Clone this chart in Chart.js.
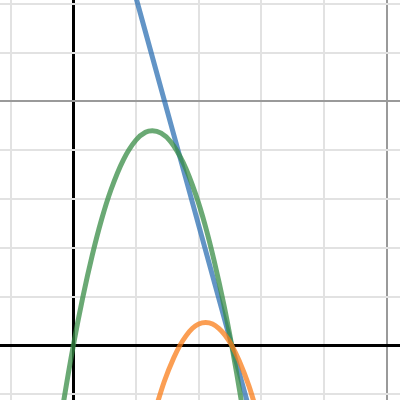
<!DOCTYPE html>
<html>
<head>
<meta charset="utf-8">
<script src="https://cdn.jsdelivr.net/npm/chart.js@4"></script>
<style>
  html, body { margin: 0; padding: 0; background: #fff; }
  #wrap { width: 400px; height: 400px; position: relative; }
</style>
</head>
<body>
<div id="wrap"><canvas id="graph"></canvas></div>
<script>
// visible window
const xMin = -1.17, xMax = 5.21;
const yMin = -1.12, yMax = 7.08;

// blue straight line
const blueX = [0.9, 1.7, 2.526, 2.9];
const blueY = [7.59, 3.86, 0, -1.75];

// green parabola
const greenX = [-0.3, -0.15, 0, 0.15, 0.3, 0.45, 0.6, 0.8, 1.0, 1.15, 1.26, 1.4, 1.55, 1.75, 1.95, 2.1, 2.25, 2.4, 2.526, 2.7, 2.85];
const greenY = [-2.34, -1.11, 0, 0.98, 1.84, 2.58, 3.19, 3.81, 4.21, 4.37, 4.40, 4.35, 4.18, 3.75, 3.10, 2.47, 1.71, 0.84, 0, -1.30, -2.55];

// orange parabola
const orangeX = [1.3, 1.45, 1.6, 1.7, 1.8, 1.9, 2.0, 2.11, 2.22, 2.32, 2.42, 2.526, 2.65, 2.8, 2.95];
const orangeY = [-1.35, -0.74, -0.26, 0, 0.20, 0.35, 0.44, 0.47, 0.44, 0.35, 0.21, 0, -0.33, -0.83, -1.46];

function toPoints(xs, ys) {
    return xs.map((x, i) => ({ x: x, y: ys[i] }));
}

function curve(xs, ys, color, order) {
    return {
        data: toPoints(xs, ys),
        showLine: true,
        borderColor: color,
        borderWidth: 5,
        pointRadius: 0,
        cubicInterpolationMode: 'monotone',
        order: order
    };
}

function gridColor(ctx) {
    const v = ctx.tick.value;
    if (v === 0) return '#000';
    if (v % 5 === 0) return '#9a9a9a';
    return '#e2e2e2';
}
function gridWidth(ctx) {
    return ctx.tick.value === 0 ? 3 : 2;
}

const axisOpts = (min, max) => ({
    type: 'linear',
    min: min,
    max: max,
    ticks: { display: false, stepSize: 1, includeBounds: false },
    grid: { color: gridColor, lineWidth: gridWidth, drawTicks: false },
    border: { display: false },
    afterFit: s => { s.width = 0; s.height = 0; }
});

new Chart(document.getElementById('graph'), {
    type: 'scatter',
    data: {
        datasets: [
            curve(orangeX, orangeY, 'rgba(250,126,25,0.75)', 1),
            curve(greenX, greenY, 'rgba(56,140,70,0.75)', 2),
            curve(blueX, blueY, 'rgba(45,112,179,0.75)', 3)
        ]
    },
    options: {
        responsive: true,
        maintainAspectRatio: false,
        animation: false,
        layout: { padding: 0 },
        plugins: { legend: { display: false }, tooltip: { enabled: false } },
        scales: {
            x: axisOpts(xMin, xMax),
            y: axisOpts(yMin, yMax)
        }
    }
});
</script>
</body>
</html>
